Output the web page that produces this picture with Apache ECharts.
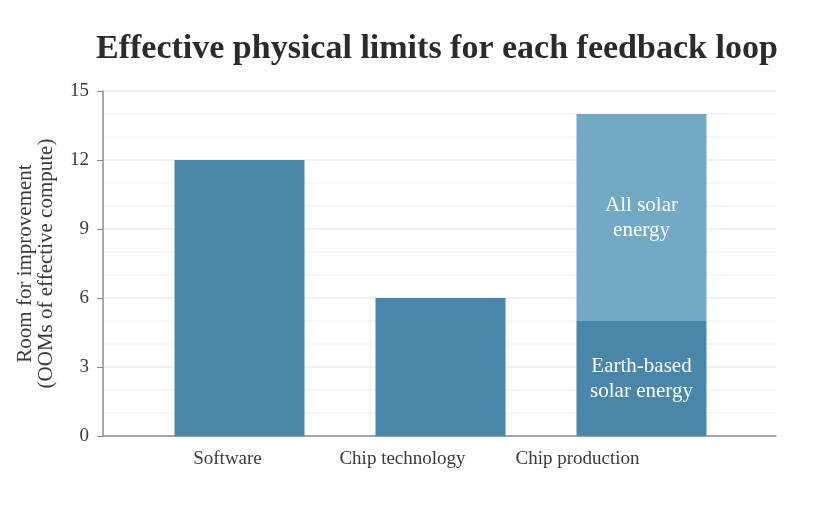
<!DOCTYPE html>
<html>
<head>
<meta charset="utf-8">
<script src="https://cdn.jsdelivr.net/npm/echarts@6/dist/echarts.min.js"></script>
<style>
html,body{margin:0;padding:0;background:#fff;}
#chart{width:828px;height:519px;}
</style>
</head>
<body>
<div id="chart"></div>
<script>
var categories = ['Software', 'Chip technology', 'Chip production'];
var baseValues = [12, 6, 5];
var extraValues = ['-', '-', 9];
var yTicks = [0, 3, 6, 9, 12, 15];
var titleText = 'Effective physical limits for each feedback loop';
var yName = 'Room for improvement\n(OOMs of effective compute)';
var baseLabel = 'Earth-based\nsolar energy';
var extraLabel = 'All solar\nenergy';

var FONT = '"Liberation Serif", "DejaVu Serif", serif';
var DARK = '#4986a9';
var LIGHT = '#72aac6';
var TEXT = '#3a3a3a';
var AXIS = '#8c8c8c';

var chart = echarts.init(document.getElementById('chart'), null, {renderer: 'canvas'});

var baseData = baseValues.map(function (v, i) {
  var item = {value: v};
  if (i === 2) {
    item.label = {show: true};
  }
  return item;
});

chart.setOption({
  backgroundColor: '#ffffff',
  animation: false,
  title: {
    text: titleText,
    left: 91,
    top: 27,
    textStyle: {fontFamily: FONT, fontSize: 34, fontWeight: 'bold', color: '#2b2b2b'}
  },
  grid: [
    {left: 103, right: 52, top: 91, bottom: 83},   // frame: y axis, gridlines, baseline
    {left: 139, right: 86, top: 91, bottom: 83},   // bars
    {left: 140, right: 163, top: 91, bottom: 83}   // category labels
  ],
  xAxis: [
    {
      gridIndex: 0, type: 'value', min: 0, max: 1,
      axisLine: {show: true, onZero: false, lineStyle: {color: AXIS, width: 1.5}},
      axisTick: {show: false}, axisLabel: {show: false}, splitLine: {show: false}
    },
    {
      gridIndex: 1, type: 'category', data: categories,
      axisLine: {show: false}, axisTick: {show: false}, axisLabel: {show: false}, splitLine: {show: false}
    },
    {
      gridIndex: 2, type: 'category', data: categories,
      axisLine: {show: false}, axisTick: {show: false}, splitLine: {show: false},
      axisLabel: {show: true, margin: 14, fontFamily: FONT, fontSize: 19, color: TEXT, interval: 0}
    }
  ],
  yAxis: [
    {
      gridIndex: 0, type: 'value', min: 0, max: 15, interval: 3,
      name: yName, nameLocation: 'middle', nameGap: 46,
      nameTextStyle: {fontFamily: FONT, fontSize: 21, color: TEXT, lineHeight: 21},
      axisLine: {show: true, onZero: false, lineStyle: {color: AXIS, width: 1.5}},
      axisTick: {show: true, inside: false, length: 6, lineStyle: {color: AXIS}},
      axisLabel: {margin: 14, fontFamily: FONT, fontSize: 19, color: TEXT,
        formatter: function (v) { return yTicks.indexOf(v) >= 0 ? String(v) : ''; }},
      splitLine: {show: true, lineStyle: {color: '#ececec', width: 1.5}},
      minorTick: {show: false, splitNumber: 3},
      minorSplitLine: {show: true, lineStyle: {color: '#f4f4f4', width: 1.5}}
    },
    {
      gridIndex: 1, type: 'value', min: 0, max: 15, show: false
    },
    {
      gridIndex: 2, type: 'value', min: 0, max: 15, show: false
    }
  ],
  series: [
    {
      type: 'bar', xAxisIndex: 1, yAxisIndex: 1, stack: 'total', barWidth: 130,
      data: baseData,
      itemStyle: {color: DARK},
      label: {show: false, position: 'inside', formatter: baseLabel, color: '#ffffff', fontFamily: FONT, fontSize: 21, lineHeight: 25},
      z: 3
    },
    {
      type: 'bar', xAxisIndex: 1, yAxisIndex: 1, stack: 'total', barWidth: 130,
      data: extraValues,
      itemStyle: {color: LIGHT},
      label: {show: true, position: 'inside', formatter: extraLabel, color: '#ffffff', fontFamily: FONT, fontSize: 21, lineHeight: 25},
      z: 3
    },
    {
      type: 'bar', xAxisIndex: 2, yAxisIndex: 2, data: [], silent: true
    }
  ]
});
</script>
</body>
</html>
